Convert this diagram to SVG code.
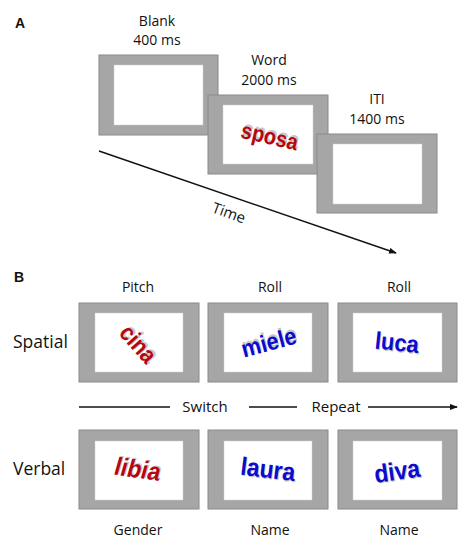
<svg xmlns="http://www.w3.org/2000/svg" width="474" height="557" viewBox="0 0 474 557">
<style>
.frame{fill:#a6a6a6;stroke:#8a8a8a;stroke-width:1}
.screen{fill:#ffffff;stroke:#d0d0d0;stroke-width:0.5}
.lbl{font-family:"Open Sans","Liberation Sans",sans-serif;font-size:14px;fill:#111;text-anchor:middle}
.big{font-family:"Open Sans","Liberation Sans",sans-serif;font-size:17.5px;fill:#111}
.panel{font-family:"Liberation Sans",Arial,sans-serif;font-size:14px;font-weight:bold;fill:#111}
.w{font-family:"Liberation Sans",Arial,sans-serif;font-weight:bold;text-anchor:middle}
.red{fill:#b5070f}
.blue{fill:#0a0ad0}
.sh{fill:#c8c8c8}
.ln{stroke:#111;stroke-width:1.4;fill:none}
</style>
<defs>
<marker id="ah" markerWidth="8" markerHeight="6" refX="7" refY="3" orient="auto" markerUnits="userSpaceOnUse">
<path d="M0,0 L8,3 L0,6 Z" fill="#111"/>
</marker>
</defs>
<text class="panel" x="15" y="28">A</text>
<text class="panel" x="14" y="282">B</text>

<g id="blank">
<rect class="frame" x="99" y="55" width="119" height="80"/>
<rect class="screen" x="114" y="65" width="89" height="60"/>
<text class="lbl" x="157" y="26">Blank</text>
<text class="lbl" x="157" y="45">400 ms</text>
</g>
<g id="word">
<rect class="frame" x="208" y="95" width="120" height="79"/>
<rect class="screen" x="223" y="105" width="90" height="59"/>
<text class="lbl" x="269" y="65">Word</text>
<text class="lbl" x="269" y="85">2000 ms</text>
<g transform="translate(268,144) rotate(13) scale(1,1.15)">
<text class="w sh" x="1" y="-2" font-size="20">sposa</text>
<text class="w red" x="0" y="0" font-size="20">sposa</text>
</g>
</g>
<g id="iti">
<rect class="frame" x="317" y="134" width="120" height="79"/>
<rect class="screen" x="333" y="144" width="89" height="60"/>
<text class="lbl" x="377" y="104">ITI</text>
<text class="lbl" x="377" y="124">1400 ms</text>
</g>

<g id="connectors">
<line class="ln" x1="99" y1="151" x2="396" y2="253" marker-end="url(#ah)" stroke-width="1.2"/>
<line class="ln" x1="79" y1="407" x2="170" y2="407"/>
<line class="ln" x1="249" y1="407" x2="297" y2="407"/>
<line class="ln" x1="368" y1="407" x2="457" y2="407" marker-end="url(#ah)"/>
</g>
<text class="lbl" x="211" y="212" transform="rotate(20 211 212)" style="text-anchor:start;font-size:15px">Time</text>
<text class="lbl" x="205" y="412" style="font-size:15px">Switch</text>
<text class="lbl" x="336" y="412" style="font-size:15px">Repeat</text>

<text class="big" x="13" y="348">Spatial</text>
<text class="big" x="13" y="475">Verbal</text>

<text class="lbl" x="138" y="292">Pitch</text>
<text class="lbl" x="270" y="292">Roll</text>
<text class="lbl" x="399" y="292">Roll</text>
<text class="lbl" x="138" y="535">Gender</text>
<text class="lbl" x="270" y="535">Name</text>
<text class="lbl" x="399" y="535">Name</text>

<g id="s1">
<rect class="frame" x="79" y="303" width="120" height="79"/>
<rect class="screen" x="95" y="313" width="88" height="59"/>
<g transform="translate(138,344) rotate(48) scale(1,1.15)">
<text class="w sh" x="1" y="5" font-size="21">cina</text>
<text class="w red" x="0" y="7" font-size="21">cina</text>
</g>
</g>
<g id="s2">
<rect class="frame" x="208" y="303" width="120" height="79"/>
<rect class="screen" x="224" y="313" width="88" height="59"/>
<g transform="translate(269,343) rotate(-15) scale(1,1.1)">
<text class="w sh" x="1" y="5" font-size="22">miele</text>
<text class="w blue" x="0" y="7" font-size="22">miele</text>
</g>
</g>
<g id="s3">
<rect class="frame" x="338" y="303" width="119" height="79"/>
<rect class="screen" x="353" y="313" width="89" height="59"/>
<g transform="translate(397,342) rotate(6) scale(1,1.1)">
<text class="w sh" x="1" y="9" font-size="22">luca</text>
<text class="w blue" x="0" y="8" font-size="22">luca</text>
</g>
</g>
<g id="v1">
<rect class="frame" x="79" y="430" width="120" height="79"/>
<rect class="screen" x="95" y="441" width="88" height="59"/>
<g transform="translate(138,469) rotate(8) skewX(-8) scale(1,1.1)">
<text class="w sh" x="1" y="7" font-size="23">libia</text>
<text class="w red" x="0" y="8" font-size="23">libia</text>
</g>
</g>
<g id="v2">
<rect class="frame" x="208" y="430" width="120" height="79"/>
<rect class="screen" x="224" y="441" width="88" height="59"/>
<g transform="translate(268,469) rotate(7) scale(1,1.1)">
<text class="w sh" x="1" y="9" font-size="23">laura</text>
<text class="w blue" x="0" y="8" font-size="23">laura</text>
</g>
</g>
<g id="v3">
<rect class="frame" x="338" y="430" width="119" height="79"/>
<rect class="screen" x="353" y="441" width="89" height="59"/>
<g transform="translate(397,471) rotate(-8) scale(1,1.1)">
<text class="w sh" x="1" y="9" font-size="23">diva</text>
<text class="w blue" x="0" y="8" font-size="23">diva</text>
</g>
</g>
</svg>
